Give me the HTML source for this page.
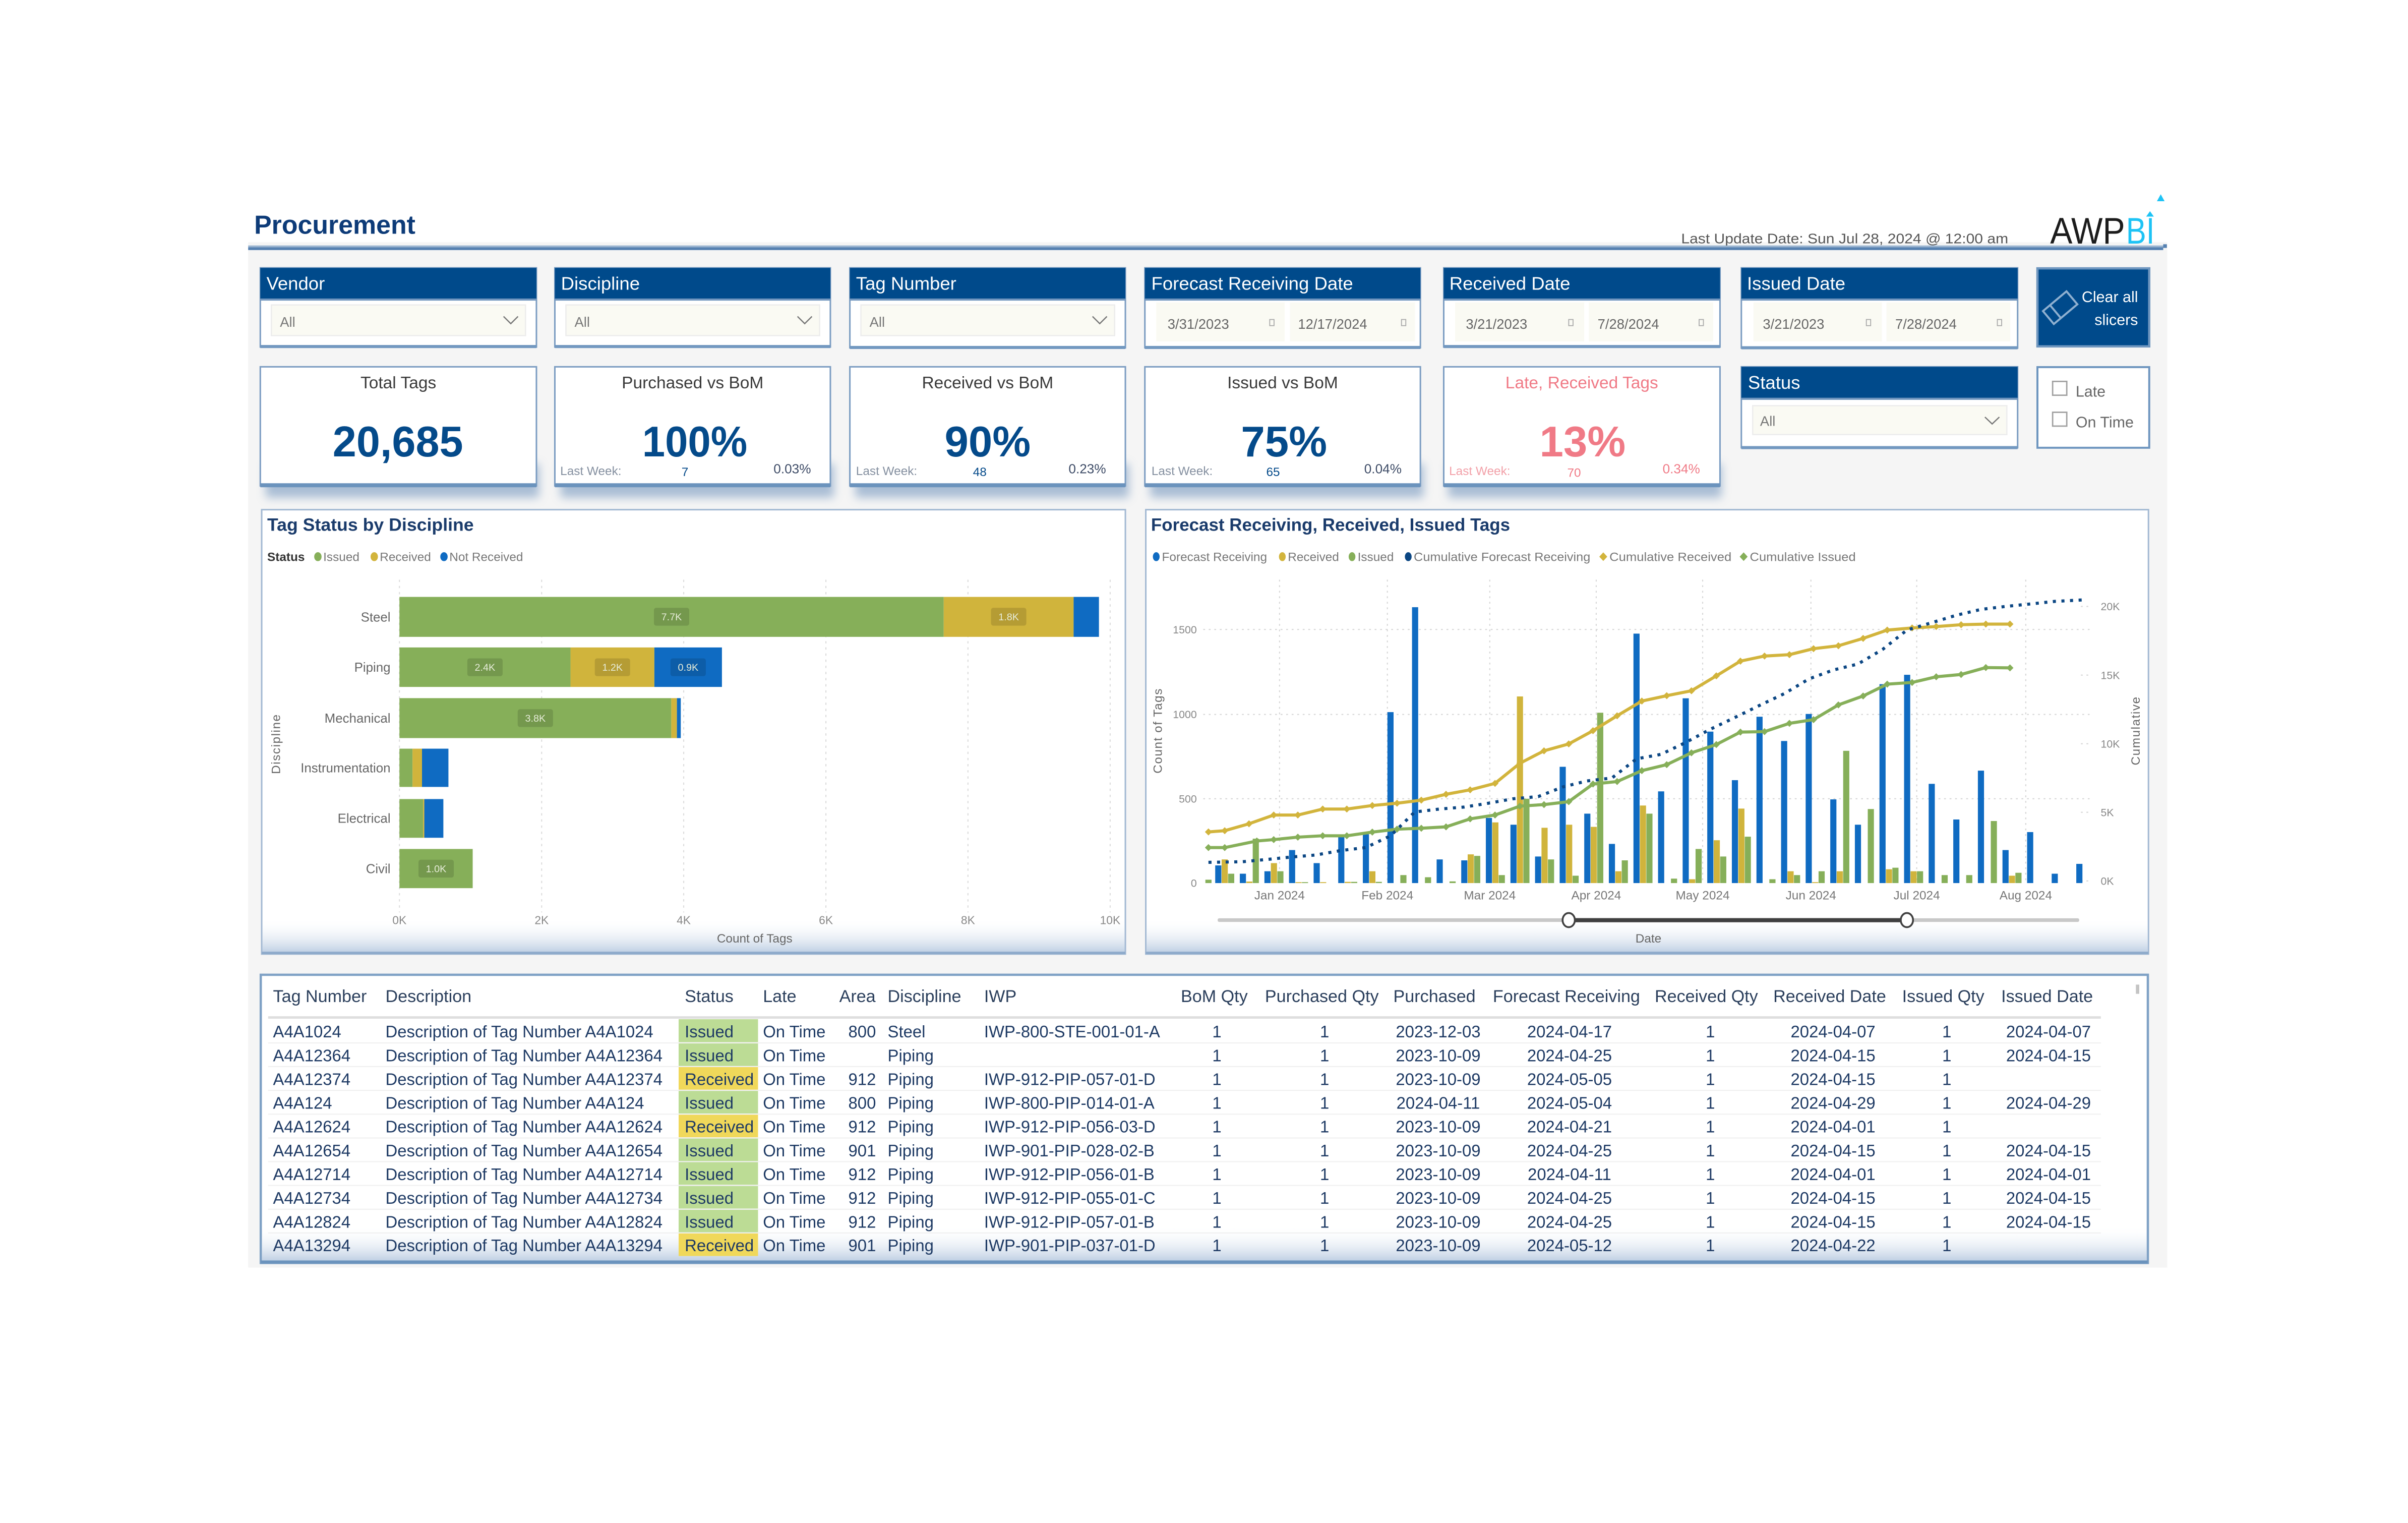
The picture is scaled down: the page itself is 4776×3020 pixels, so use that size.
<!DOCTYPE html>
<html><head><meta charset="utf-8"><style>
html,body{margin:0;padding:0;background:#fff;width:4776px;height:3020px;overflow:hidden}
svg{display:block;font-family:"Liberation Sans",Arial,sans-serif}
</style></head><body>
<svg width="4776" height="3020" viewBox="0 0 1568 991.5" preserveAspectRatio="none" xmlns="http://www.w3.org/2000/svg">
<defs>
<filter id="bl" x="-20%" y="-50%" width="140%" height="200%"><feGaussianBlur stdDeviation="3"/></filter>
<linearGradient id="pb" x1="0" y1="0" x2="0" y2="1"><stop offset="0" stop-color="#ffffff" stop-opacity="0"/><stop offset="1" stop-color="#bccde2"/></linearGradient>
<marker id="my" viewBox="-3 -3 6 6" markerWidth="4.6" markerHeight="4.6" markerUnits="userSpaceOnUse" refX="0" refY="0"><path d="M0,-3 L3,0 L0,3 L-3,0Z" fill="#d2b43c"/></marker>
<marker id="mg" viewBox="-3 -3 6 6" markerWidth="4.6" markerHeight="4.6" markerUnits="userSpaceOnUse" refX="0" refY="0"><path d="M0,-3 L3,0 L0,3 L-3,0Z" fill="#86af59"/></marker>
</defs>
<rect x="0" y="0" width="1568" height="991.5" fill="#fff"/>
<!-- gray area -->
<rect x="161.6" y="157.7" width="1249.6" height="667.5" fill="#f5f5f5"/>
<!-- header -->
<text x="165.5" y="152.2" font-size="17" font-weight="bold" fill="#0d3b78" textLength="105" lengthAdjust="spacingAndGlyphs">Procurement</text>
<text x="1094.7" y="158.4" font-size="9" fill="#555" textLength="213" lengthAdjust="spacingAndGlyphs">Last Update Date: Sun Jul 28, 2024 @ 12:00 am</text>
<text x="1335" y="158.6" font-size="24" fill="#1c1c1c" textLength="48.7" lengthAdjust="spacingAndGlyphs">AWP</text>
<text x="1384.4" y="158.6" font-size="24" fill="#1ec3f5" textLength="18.6" lengthAdjust="spacingAndGlyphs">BI</text>
<path d="M1397.5,141 L1400,137.5 L1402.5,141Z" fill="#1ec3f5"/>
<path d="M1404.5,131 L1407,126.5 L1409.5,131Z" fill="#1ec3f5"/>
<rect x="161.6" y="159.8" width="1247" height="1.2" fill="#9ab4d0"/>
<rect x="161.6" y="161" width="1247" height="1.8" fill="#5681b1"/>
<rect x="1408.6" y="159" width="2.4" height="2.4" fill="#5681b1"/>

<!-- slicer cards -->
<g>
<rect x="169.5" y="174.4" width="179.8" height="51.5" fill="#fff" stroke="#7c9dc2" stroke-width="1"/>
<rect x="169.5" y="174.4" width="179.8" height="20" fill="#004a8b"/>
<rect x="169.5" y="194.4" width="179.8" height="1.3" fill="#7095be"/>
<rect x="169.5" y="224.6" width="179.8" height="2" fill="#7298c0"/>
<rect x="176.7" y="198.5" width="165.5" height="20" fill="#fafaf3" stroke="#ececec" stroke-width="0.8"/>
<text x="173.5" y="188.6" font-size="12" fill="#fff">Vendor</text>
<text x="182.3" y="212.8" font-size="9" fill="#777">All</text>
<polyline points="327.9,206 332.6,210.7 337.3,206" fill="none" stroke="#777" stroke-width="0.8"/>
</g>
<g>
<rect x="361.3" y="174.4" width="179.4" height="51.5" fill="#fff" stroke="#7c9dc2" stroke-width="1"/>
<rect x="361.3" y="174.4" width="179.4" height="20" fill="#004a8b"/>
<rect x="361.3" y="194.4" width="179.4" height="1.3" fill="#7095be"/>
<rect x="361.3" y="224.6" width="179.4" height="2" fill="#7298c0"/>
<rect x="368.5" y="198.5" width="165.2" height="20" fill="#fafaf3" stroke="#ececec" stroke-width="0.8"/>
<text x="365.3" y="188.6" font-size="12" fill="#fff">Discipline</text>
<text x="374.1" y="212.8" font-size="9" fill="#777">All</text>
<polyline points="519.3,206 524,210.7 528.7,206" fill="none" stroke="#777" stroke-width="0.8"/>
</g>
<g>
<rect x="553.4" y="174.4" width="179.4" height="52" fill="#fff" stroke="#7c9dc2" stroke-width="1"/>
<rect x="553.4" y="174.4" width="179.4" height="20" fill="#004a8b"/>
<rect x="553.4" y="194.4" width="179.4" height="1.3" fill="#7095be"/>
<rect x="553.4" y="225.2" width="179.4" height="2" fill="#7298c0"/>
<rect x="560.6" y="198.5" width="165.2" height="20" fill="#fafaf3" stroke="#ececec" stroke-width="0.8"/>
<text x="557.4" y="188.6" font-size="12" fill="#fff">Tag Number</text>
<text x="566.2" y="212.8" font-size="9" fill="#777">All</text>
<polyline points="711.4,206 716.1,210.7 720.8,206" fill="none" stroke="#777" stroke-width="0.8"/>
</g>
<!-- date slicers -->
<g>
<rect x="745.5" y="174.4" width="179.4" height="52" fill="#fff" stroke="#7c9dc2" stroke-width="1"/>
<rect x="745.5" y="174.4" width="179.4" height="20" fill="#004a8b"/>
<rect x="745.5" y="194.4" width="179.4" height="1.3" fill="#7095be"/>
<rect x="745.5" y="225.2" width="179.4" height="2" fill="#7298c0"/>
<rect x="752.9" y="196.9" width="83.6" height="25.4" fill="#fafaf3"/>
<rect x="840" y="196.9" width="81.4" height="25.4" fill="#fafaf3"/>
<text x="749.7" y="188.6" font-size="12" fill="#fff">Forecast Receiving Date</text>
<text x="760.3" y="214" font-size="9" fill="#666">3/31/2023</text>
<text x="845.2" y="214" font-size="9" fill="#666">12/17/2024</text>
<rect x="826.8" y="208" width="2.8" height="4" fill="none" stroke="#aaa" stroke-width="0.6"/>
<rect x="912.6" y="208" width="2.8" height="4" fill="none" stroke="#aaa" stroke-width="0.6"/>
</g>
<g>
<rect x="940.1" y="174.4" width="179.9" height="51.5" fill="#fff" stroke="#7c9dc2" stroke-width="1"/>
<rect x="940.1" y="174.4" width="179.9" height="20" fill="#004a8b"/>
<rect x="940.1" y="194.4" width="179.9" height="1.3" fill="#7095be"/>
<rect x="940.1" y="224.6" width="179.9" height="2" fill="#7298c0"/>
<rect x="947.5" y="196.9" width="84.1" height="25.4" fill="#fafaf3"/>
<rect x="1034.6" y="196.9" width="81" height="25.4" fill="#fafaf3"/>
<text x="943.8" y="188.6" font-size="12" fill="#fff">Received Date</text>
<text x="954.5" y="214" font-size="9" fill="#666">3/21/2023</text>
<text x="1040.3" y="214" font-size="9" fill="#666">7/28/2024</text>
<rect x="1021.5" y="208" width="2.8" height="4" fill="none" stroke="#aaa" stroke-width="0.6"/>
<rect x="1106.4" y="208" width="2.8" height="4" fill="none" stroke="#aaa" stroke-width="0.6"/>
</g>
<g>
<rect x="1133.9" y="174.4" width="179.9" height="52.2" fill="#fff" stroke="#7c9dc2" stroke-width="1"/>
<rect x="1133.9" y="174.4" width="179.9" height="20" fill="#004a8b"/>
<rect x="1133.9" y="194.4" width="179.9" height="1.3" fill="#7095be"/>
<rect x="1133.9" y="225.4" width="179.9" height="2" fill="#7298c0"/>
<rect x="1141.8" y="196.9" width="83.6" height="25.4" fill="#fafaf3"/>
<rect x="1228.4" y="196.9" width="80.6" height="25.4" fill="#fafaf3"/>
<text x="1137.6" y="188.6" font-size="12" fill="#fff">Issued Date</text>
<text x="1147.9" y="214" font-size="9" fill="#666">3/21/2023</text>
<text x="1234.1" y="214" font-size="9" fill="#666">7/28/2024</text>
<rect x="1215.3" y="208" width="2.8" height="4" fill="none" stroke="#aaa" stroke-width="0.6"/>
<rect x="1300.6" y="208" width="2.8" height="4" fill="none" stroke="#aaa" stroke-width="0.6"/>
</g>
<!-- clear all slicers -->
<rect x="1326.7" y="174.7" width="72.8" height="50.8" fill="#004a8b" stroke="#6f96bf" stroke-width="1.5"/>
<g transform="translate(1341.5,200.3) rotate(-40)">
<rect x="-10" y="-5.5" width="20" height="11" fill="none" stroke="#8fb0d0" stroke-width="1.3"/>
<line x1="-4" y1="-5.5" x2="-4" y2="5.5" stroke="#8fb0d0" stroke-width="1.3"/>
</g>
<text x="1392.2" y="196.6" font-size="10" fill="#fff" text-anchor="end">Clear all</text>
<text x="1392.2" y="211.6" font-size="10" fill="#fff" text-anchor="end">slicers</text>

<!-- KPI shadows -->
<g filter="url(#bl)" fill="#9bb3cf" opacity="0.85">
<rect x="173" y="302" width="178" height="22"/>
<rect x="365" y="302" width="178" height="22"/>
<rect x="557" y="302" width="178" height="22"/>
<rect x="749" y="302" width="178" height="22"/>
<rect x="943" y="302" width="178" height="22"/>
</g>
<!-- KPI cards -->
<g>
<rect x="169.5" y="238.8" width="179.8" height="77.5" fill="#fff" stroke="#7c9dc2" stroke-width="1"/>
<rect x="169.5" y="314.6" width="179.8" height="2.6" fill="#6b93bd"/>
<text x="259.4" y="252.8" font-size="11" fill="#3a3a3a" text-anchor="middle">Total Tags</text>
<text x="259.1" y="297.2" font-size="28" font-weight="bold" fill="#044a8a" text-anchor="middle" textLength="85" lengthAdjust="spacingAndGlyphs">20,685</text>
</g>
<g>
<rect x="361.3" y="238.8" width="179.4" height="77.5" fill="#fff" stroke="#7c9dc2" stroke-width="1"/>
<rect x="361.3" y="314.6" width="179.4" height="2.6" fill="#6b93bd"/>
<text x="451" y="252.8" font-size="11" fill="#3a3a3a" text-anchor="middle">Purchased vs BoM</text>
<text x="452.4" y="297.2" font-size="28" font-weight="bold" fill="#044a8a" text-anchor="middle" textLength="68.4" lengthAdjust="spacingAndGlyphs">100%</text>
<text x="364.8" y="309.2" font-size="8" fill="#8590a0">Last Week:</text>
<text x="446" y="310" font-size="8" fill="#044a8a" text-anchor="middle">7</text>
<text x="528.1" y="308.2" font-size="8.6" fill="#3d4b66" text-anchor="end">0.03%</text>
</g>
<g>
<rect x="553.4" y="238.8" width="179.4" height="77.5" fill="#fff" stroke="#7c9dc2" stroke-width="1"/>
<rect x="553.4" y="314.6" width="179.4" height="2.6" fill="#6b93bd"/>
<text x="643.1" y="252.8" font-size="11" fill="#3a3a3a" text-anchor="middle">Received vs BoM</text>
<text x="643.1" y="297.2" font-size="28" font-weight="bold" fill="#044a8a" text-anchor="middle">90%</text>
<text x="557.4" y="309.2" font-size="8" fill="#8590a0">Last Week:</text>
<text x="638" y="310" font-size="8" fill="#044a8a" text-anchor="middle">48</text>
<text x="720.2" y="308.2" font-size="8.6" fill="#3d4b66" text-anchor="end">0.23%</text>
</g>
<g>
<rect x="745.5" y="238.8" width="179.4" height="77.5" fill="#fff" stroke="#7c9dc2" stroke-width="1"/>
<rect x="745.5" y="314.6" width="179.4" height="2.6" fill="#6b93bd"/>
<text x="835.2" y="252.8" font-size="11" fill="#3a3a3a" text-anchor="middle">Issued vs BoM</text>
<text x="836.1" y="297.2" font-size="28" font-weight="bold" fill="#044a8a" text-anchor="middle">75%</text>
<text x="749.8" y="309.2" font-size="8" fill="#8590a0">Last Week:</text>
<text x="829" y="310" font-size="8" fill="#044a8a" text-anchor="middle">65</text>
<text x="912.7" y="308.2" font-size="8.6" fill="#3d4b66" text-anchor="end">0.04%</text>
</g>
<g>
<rect x="940.1" y="238.8" width="179.9" height="77.5" fill="#fff" stroke="#7c9dc2" stroke-width="1"/>
<rect x="940.1" y="314.6" width="179.9" height="2.6" fill="#6b93bd"/>
<text x="1030" y="252.8" font-size="11" fill="#f07a86" text-anchor="middle">Late, Received Tags</text>
<text x="1030.5" y="297.2" font-size="28" font-weight="bold" fill="#f07a86" text-anchor="middle">13%</text>
<text x="943.6" y="309.2" font-size="8" fill="#f2a0a8">Last Week:</text>
<text x="1025" y="310.5" font-size="8" fill="#f07a86" text-anchor="middle">70</text>
<text x="1107" y="308.2" font-size="8.6" fill="#f07a86" text-anchor="end">0.34%</text>
</g>
<!-- status slicer -->
<rect x="1133.9" y="238.8" width="179.9" height="52.7" fill="#fff" stroke="#7c9dc2" stroke-width="1"/>
<rect x="1133.9" y="238.8" width="179.9" height="20.2" fill="#004a8b"/>
<rect x="1133.9" y="259" width="179.9" height="1.3" fill="#7095be"/>
<rect x="1133.9" y="290.4" width="179.9" height="2" fill="#7298c0"/>
<rect x="1141.3" y="264.1" width="165.5" height="18.8" fill="#fafaf3" stroke="#ececec" stroke-width="0.8"/>
<text x="1138.2" y="253.2" font-size="12" fill="#fff">Status</text>
<text x="1146.1" y="277.2" font-size="9" fill="#777">All</text>
<polyline points="1292.5,271.5 1297.2,276 1301.9,271.5" fill="none" stroke="#777" stroke-width="0.8"/>
<!-- late/on time -->
<rect x="1326.7" y="239" width="72.8" height="52.5" fill="#fff" stroke="#6f96bf" stroke-width="1.3"/>
<rect x="1336.6" y="248.3" width="9.2" height="9" fill="#fff" stroke="#a0a0a0" stroke-width="0.9"/>
<rect x="1336.6" y="268.4" width="9.2" height="9" fill="#fff" stroke="#a0a0a0" stroke-width="0.9"/>
<text x="1351.6" y="258.3" font-size="10" fill="#666">Late</text>
<text x="1351.6" y="278.2" font-size="10" fill="#666">On Time</text>

<!-- ===== Bar chart panel ===== -->
<rect x="170.4" y="331.8" width="562.4" height="289.3" fill="#fff" stroke="#a3b9d3" stroke-width="1"/>
<rect x="170.9" y="598" width="561.4" height="22.6" fill="url(#pb)"/>
<rect x="170.4" y="619.6" width="562.4" height="1.6" fill="#8eaacb"/>
<text x="174" y="345.6" font-size="11.6" font-weight="bold" fill="#1a3b6b" textLength="134.5" lengthAdjust="spacingAndGlyphs">Tag Status by Discipline</text>
<text x="174" y="365.2" font-size="8" font-weight="bold" fill="#333">Status</text>
<ellipse cx="207" cy="362.4" rx="2.4" ry="2.9" fill="#86af59"/>
<text x="210.5" y="365.2" font-size="8" fill="#777">Issued</text>
<ellipse cx="243.7" cy="362.4" rx="2.4" ry="2.9" fill="#d2b43c"/>
<text x="247.3" y="365.2" font-size="8" fill="#777">Received</text>
<ellipse cx="289.1" cy="362.4" rx="2.4" ry="2.9" fill="#0f6bc2"/>
<text x="292.6" y="365.2" font-size="8" fill="#777">Not Received</text>
<g stroke="#dcdcdc" stroke-width="0.7" stroke-dasharray="1.5,2.5">
<line x1="260.1" y1="377.4" x2="260.1" y2="594"/>
<line x1="352.7" y1="377.4" x2="352.7" y2="594"/>
<line x1="445.2" y1="377.4" x2="445.2" y2="594"/>
<line x1="537.8" y1="377.4" x2="537.8" y2="594"/>
<line x1="630.3" y1="377.4" x2="630.3" y2="594"/>
<line x1="722.9" y1="377.4" x2="722.9" y2="594"/>
</g>
<!-- bars -->
<rect x="260.1" y="388.6" width="354.4" height="26" fill="#86af59"/>
<rect x="614.5" y="388.6" width="84.6" height="26" fill="#d0b43c"/>
<rect x="699.1" y="388.6" width="16.5" height="26" fill="#0f6bc2"/>
<rect x="260.1" y="421.5" width="111.4" height="25.7" fill="#86af59"/>
<rect x="371.5" y="421.5" width="54.6" height="25.7" fill="#d0b43c"/>
<rect x="426.1" y="421.5" width="44" height="25.7" fill="#0f6bc2"/>
<rect x="260.1" y="454.5" width="177" height="26" fill="#86af59"/>
<rect x="437.1" y="454.5" width="3.7" height="26" fill="#d0b43c"/>
<rect x="440.8" y="454.5" width="2.5" height="26" fill="#0f6bc2"/>
<rect x="260.1" y="487.4" width="8.5" height="24.9" fill="#86af59"/>
<rect x="268.6" y="487.4" width="6.2" height="24.9" fill="#d0b43c"/>
<rect x="274.8" y="487.4" width="17.2" height="24.9" fill="#0f6bc2"/>
<rect x="260.1" y="520.2" width="15.4" height="25.2" fill="#86af59"/>
<rect x="275.5" y="520.2" width="0.8" height="25.2" fill="#d0b43c"/>
<rect x="276.3" y="520.2" width="12.4" height="25.2" fill="#0f6bc2"/>
<rect x="260.1" y="552.7" width="47.7" height="25.5" fill="#86af59"/>
<!-- data labels -->
<g fill="#000" opacity="0.13">
<rect x="425.8" y="395.7" width="23" height="11.6" rx="1.5"/>
<rect x="645.3" y="395.7" width="23" height="11.6" rx="1.5"/>
<rect x="304.3" y="428.6" width="23" height="11.6" rx="1.5"/>
<rect x="387.3" y="428.6" width="23" height="11.6" rx="1.5"/>
<rect x="436.6" y="428.6" width="23" height="11.6" rx="1.5"/>
<rect x="337.1" y="461.7" width="23" height="11.6" rx="1.5"/>
<rect x="272.5" y="559.7" width="23" height="11.6" rx="1.5"/>
</g>
<g font-size="6.5" fill="#e6ecd8" text-anchor="middle">
<text x="437.3" y="403.8">7.7K</text>
<text x="656.8" y="403.8">1.8K</text>
<text x="315.8" y="436.7">2.4K</text>
<text x="398.8" y="436.7">1.2K</text>
<text x="448.1" y="436.7">0.9K</text>
<text x="348.6" y="469.8">3.8K</text>
<text x="284" y="567.8">1.0K</text>
</g>
<g font-size="8.5" fill="#666" text-anchor="end">
<text x="254.3" y="404.6">Steel</text>
<text x="254.3" y="437.3">Piping</text>
<text x="254.3" y="470.4">Mechanical</text>
<text x="254.3" y="502.8">Instrumentation</text>
<text x="254.3" y="535.7">Electrical</text>
<text x="254.3" y="568.4">Civil</text>
</g>
<g font-size="7.5" fill="#888" text-anchor="middle">
<text x="260.1" y="601.6">0K</text>
<text x="352.7" y="601.6">2K</text>
<text x="445.2" y="601.6">4K</text>
<text x="537.8" y="601.6">6K</text>
<text x="630.3" y="601.6">8K</text>
<text x="722.9" y="601.6">10K</text>
</g>
<text x="491.4" y="613.6" font-size="8" fill="#666" text-anchor="middle">Count of Tags</text>
<text transform="translate(182.3,484.3) rotate(-90)" font-size="8" fill="#666" text-anchor="middle" letter-spacing="0.5">Discipline</text>

<!-- ===== Line chart panel ===== -->
<rect x="746.1" y="331.8" width="652.9" height="289.3" fill="#fff" stroke="#a3b9d3" stroke-width="1"/>
<rect x="746.6" y="598" width="651.9" height="22.6" fill="url(#pb)"/>
<rect x="746.1" y="619.6" width="652.9" height="1.6" fill="#8eaacb"/>
<text x="749.5" y="345.6" font-size="11.6" font-weight="bold" fill="#1a3b6b" textLength="233.8" lengthAdjust="spacingAndGlyphs">Forecast Receiving, Received, Issued Tags</text>
<ellipse cx="752.9" cy="362.4" rx="2.2" ry="2.9" fill="#0f6bc2"/>
<text x="756.6" y="365.2" font-size="8" fill="#777">Forecast Receiving</text>
<ellipse cx="835" cy="362.4" rx="2.2" ry="2.9" fill="#d2b43c"/>
<text x="838.6" y="365.2" font-size="8" fill="#777">Received</text>
<ellipse cx="880.4" cy="362.4" rx="2.2" ry="2.9" fill="#86af59"/>
<text x="884" y="365.2" font-size="8" fill="#777">Issued</text>
<ellipse cx="917" cy="362.4" rx="2.2" ry="2.9" fill="#0b4683"/>
<text x="920.6" y="365.2" font-size="8" fill="#777" textLength="115" lengthAdjust="spacingAndGlyphs">Cumulative Forecast Receiving</text>
<path d="M1044,359.6 L1046.6,362.4 L1044,365.2 L1041.4,362.4Z" fill="#d2b43c"/>
<text x="1048" y="365.2" font-size="8" fill="#777" textLength="79.5" lengthAdjust="spacingAndGlyphs">Cumulative Received</text>
<path d="M1135.4,359.6 L1138,362.4 L1135.4,365.2 L1132.8,362.4Z" fill="#86af59"/>
<text x="1139.4" y="365.2" font-size="8" fill="#777" textLength="69" lengthAdjust="spacingAndGlyphs">Cumulative Issued</text>
<!-- grid -->
<g stroke="#d6d6d6" stroke-width="0.7" stroke-dasharray="1.2,2.4">
<line x1="783.5" y1="520" x2="1361.6" y2="520"/>
<line x1="783.5" y1="465.1" x2="1361.6" y2="465.1"/>
<line x1="783.5" y1="409.8" x2="1361.6" y2="409.8"/>
<line x1="833.2" y1="377.4" x2="833.2" y2="575"/>
<line x1="903.4" y1="377.4" x2="903.4" y2="575"/>
<line x1="970.1" y1="377.4" x2="970.1" y2="575"/>
<line x1="1039.4" y1="377.4" x2="1039.4" y2="575"/>
<line x1="1108.7" y1="377.4" x2="1108.7" y2="575"/>
<line x1="1179.2" y1="377.4" x2="1179.2" y2="575"/>
<line x1="1248.1" y1="377.4" x2="1248.1" y2="575"/>
<line x1="1319.1" y1="377.4" x2="1319.1" y2="575"/>
<line x1="1355" y1="528.8" x2="1362" y2="528.8"/>
<line x1="1355" y1="484.2" x2="1362" y2="484.2"/>
<line x1="1355" y1="439.5" x2="1362" y2="439.5"/>
<line x1="1355" y1="394.8" x2="1362" y2="394.8"/>
<line x1="1355" y1="573.5" x2="1362" y2="573.5"/>
</g>
<!-- bars -->
<g fill="#0f6bc2">
<rect x="791.3" y="563.4" width="4" height="11.5"/>
<rect x="807.32" y="568.8" width="4" height="6.1"/>
<rect x="823.34" y="567.2" width="4" height="7.7"/>
<rect x="839.36" y="553.4" width="4" height="21.5"/>
<rect x="855.38" y="561.9" width="4" height="13"/>
<rect x="871.4" y="545" width="4" height="29.9"/>
<rect x="887.42" y="543.1" width="4" height="31.8"/>
<rect x="903.44" y="463.6" width="4" height="111.3"/>
<rect x="919.46" y="395.3" width="4" height="179.6"/>
<rect x="935.48" y="559.5" width="4" height="15.4"/>
<rect x="951.5" y="560.1" width="4" height="14.8"/>
<rect x="967.52" y="532.5" width="4" height="42.4"/>
<rect x="983.54" y="536.9" width="4" height="38"/>
<rect x="999.56" y="557.6" width="4" height="17.3"/>
<rect x="1015.58" y="499.2" width="4" height="75.7"/>
<rect x="1031.6" y="529.7" width="4" height="45.2"/>
<rect x="1047.62" y="549.4" width="4" height="25.5"/>
<rect x="1063.64" y="412.5" width="4" height="162.4"/>
<rect x="1079.66" y="515.2" width="4" height="59.7"/>
<rect x="1095.68" y="454.6" width="4" height="120.3"/>
<rect x="1111.7" y="476.3" width="4" height="98.6"/>
<rect x="1127.72" y="507.9" width="4" height="67"/>
<rect x="1143.74" y="466.6" width="4" height="108.3"/>
<rect x="1159.76" y="482.4" width="4" height="92.5"/>
<rect x="1175.78" y="464.8" width="4" height="110.1"/>
<rect x="1191.8" y="520.4" width="4" height="54.5"/>
<rect x="1207.82" y="536.9" width="4" height="38"/>
<rect x="1223.84" y="445.4" width="4" height="129.5"/>
<rect x="1239.86" y="439.3" width="4" height="135.6"/>
<rect x="1255.88" y="510.3" width="4" height="64.6"/>
<rect x="1271.9" y="533.5" width="4" height="41.4"/>
<rect x="1287.92" y="501.7" width="4" height="73.2"/>
<rect x="1303.94" y="553.4" width="4" height="21.5"/>
<rect x="1319.96" y="541.7" width="4" height="33.2"/>
<rect x="1335.98" y="568.8" width="4" height="6.1"/>
<rect x="1352" y="562.4" width="4" height="12.5"/>
</g>
<g fill="#d0b43c">
<rect x="795.5" y="559.5" width="4" height="15.4"/>
<rect x="811.52" y="573.9" width="4" height="1"/>
<rect x="827.54" y="561.9" width="4" height="13"/>
<rect x="843.56" y="574.3" width="4" height="0.6"/>
<rect x="859.58" y="574.3" width="4" height="0.6"/>
<rect x="875.6" y="574.1" width="4" height="0.8"/>
<rect x="891.62" y="567.2" width="4" height="7.7"/>
<rect x="955.7" y="556.2" width="4" height="18.7"/>
<rect x="971.72" y="535.4" width="4" height="39.5"/>
<rect x="987.74" y="453.4" width="4" height="121.5"/>
<rect x="1003.76" y="538.9" width="4" height="36"/>
<rect x="1019.78" y="536.9" width="4" height="38"/>
<rect x="1035.8" y="538.3" width="4" height="36.6"/>
<rect x="1051.82" y="567.2" width="4" height="7.7"/>
<rect x="1067.84" y="524.4" width="4" height="50.5"/>
<rect x="1099.88" y="572.4" width="4" height="2.5"/>
<rect x="1115.9" y="547" width="4" height="27.9"/>
<rect x="1131.92" y="526.4" width="4" height="48.5"/>
<rect x="1163.96" y="567.2" width="4" height="7.7"/>
<rect x="1179.98" y="574.3" width="4" height="0.6"/>
<rect x="1196" y="567.2" width="4" height="7.7"/>
<rect x="1228.04" y="565.9" width="4" height="9"/>
<rect x="1244.06" y="567.2" width="4" height="7.7"/>
<rect x="1308.14" y="570.1" width="4" height="4.8"/>
</g>
<g fill="#86af59">
<rect x="784.9" y="572.7" width="4" height="2.2"/>
<rect x="799.7" y="568.8" width="4" height="6.1"/>
<rect x="815.72" y="546" width="4" height="28.9"/>
<rect x="831.74" y="567.2" width="4" height="7.7"/>
<rect x="847.76" y="574.3" width="4" height="0.6"/>
<rect x="879.8" y="574.1" width="4" height="0.8"/>
<rect x="895.82" y="574.1" width="4" height="0.8"/>
<rect x="911.84" y="569.7" width="4" height="5.2"/>
<rect x="927.86" y="571.1" width="4" height="3.8"/>
<rect x="943.88" y="573.8" width="4" height="1.1"/>
<rect x="959.9" y="557.2" width="4" height="17.7"/>
<rect x="975.92" y="569.7" width="4" height="5.2"/>
<rect x="991.94" y="520" width="4" height="54.9"/>
<rect x="1007.96" y="559.5" width="4" height="15.4"/>
<rect x="1023.98" y="570.1" width="4" height="4.8"/>
<rect x="1040" y="464" width="4" height="110.9"/>
<rect x="1056.02" y="560.1" width="4" height="14.8"/>
<rect x="1072.04" y="529.7" width="4" height="45.2"/>
<rect x="1088.06" y="572" width="4" height="2.9"/>
<rect x="1104.08" y="552.7" width="4" height="22.2"/>
<rect x="1120.1" y="557.6" width="4" height="17.3"/>
<rect x="1136.12" y="544.7" width="4" height="30.2"/>
<rect x="1152.14" y="572.4" width="4" height="2.5"/>
<rect x="1168.16" y="569.7" width="4" height="5.2"/>
<rect x="1184.18" y="567.2" width="4" height="7.7"/>
<rect x="1200.2" y="488.8" width="4" height="86.1"/>
<rect x="1216.22" y="526.7" width="4" height="48.2"/>
<rect x="1232.24" y="564.9" width="4" height="10"/>
<rect x="1248.26" y="567.2" width="4" height="7.7"/>
<rect x="1264.28" y="569.7" width="4" height="5.2"/>
<rect x="1280.3" y="569.7" width="4" height="5.2"/>
<rect x="1296.32" y="534.5" width="4" height="40.4"/>
<rect x="1312.34" y="568.2" width="4" height="6.7"/>
</g>
<!-- lines -->
<polyline fill="none" stroke="#d2b43c" stroke-width="2" marker-start="url(#my)" marker-mid="url(#my)" marker-end="url(#my)" points="786.9,541.6 797.5,540.8 813.3,536.3 829.4,530.6 845.1,530.6 861.3,526.7 877.0,526.7 893.6,524.4 909.7,522.9 925.5,520.9 941.6,517.1 957.3,514.2 973.5,510.0 989.7,496.9 1005.4,488.8 1021.5,484.3 1037.3,475.7 1053.0,466.0 1069.1,456.4 1085.3,452.9 1101.4,449.7 1117.6,440.0 1133.3,430.4 1149.0,427.1 1165.2,426.2 1180.9,422.3 1197.1,420.4 1213.2,415.6 1228.9,410.2 1245.1,408.8 1260.8,407.9 1277.0,406.7 1293.1,406.3 1308.8,406.3"/>
<polyline fill="none" stroke="#86af59" stroke-width="2" marker-start="url(#mg)" marker-mid="url(#mg)" marker-end="url(#mg)" points="786.9,551.8 797.5,551.8 818.4,547.5 829.4,546.6 845.1,545.0 861.3,544.1 877.0,544.1 893.6,541.7 909.7,539.8 925.5,539.2 941.6,538.3 957.3,533.1 973.5,530.6 989.7,524.8 1005.4,523.8 1021.5,521.9 1037.3,510.4 1053.0,508.8 1069.1,501.7 1085.3,497.8 1101.4,490.1 1117.6,484.7 1133.3,476.6 1149.0,476.3 1165.2,470.9 1180.9,468.5 1197.1,458.9 1213.2,453.1 1228.9,445.4 1245.1,444.3 1260.8,440.6 1277.0,439.1 1293.1,434.6 1308.8,434.8"/>
<polyline fill="none" stroke="#0b4683" stroke-width="2" stroke-dasharray="2,3.6" points="786.9,561.4 809.0,561.0 825.2,559.5 841.3,557.9 857.0,556.6 873.2,553.7 889.3,551.8 905.5,544.1 921.2,528.6 937.4,526.7 953.5,525.4 969.2,522.9 985.4,520.0 1001.6,518.6 1017.7,512.3 1033.4,508.4 1049.6,506.5 1065.7,494.0 1081.5,491.1 1097.6,483.4 1113.8,474.7 1129.9,467.0 1145.6,459.3 1161.8,451.6 1177.9,442.0 1193.7,436.2 1209.8,432.3 1226.0,422.7 1241.7,410.2 1257.8,405.4 1274.0,400.5 1290.1,396.7 1305.9,394.8 1322.0,393.2 1338.2,391.5 1357.3,390.5"/>
<!-- axes labels -->
<g font-size="7" fill="#888" text-anchor="end">
<text x="779.3" y="577.4">0</text>
<text x="779.3" y="522.5">500</text>
<text x="779.3" y="467.6">1000</text>
<text x="779.3" y="412.3">1500</text>
</g>
<g font-size="7" fill="#888">
<text x="1367.9" y="576">0K</text>
<text x="1367.9" y="531.3">5K</text>
<text x="1367.9" y="486.7">10K</text>
<text x="1367.9" y="442">15K</text>
<text x="1367.9" y="397.3">20K</text>
</g>
<g font-size="8" fill="#777" text-anchor="middle">
<text x="833.2" y="585.6">Jan 2024</text>
<text x="903.4" y="585.6">Feb 2024</text>
<text x="970.1" y="585.6">Mar 2024</text>
<text x="1039.4" y="585.6">Apr 2024</text>
<text x="1108.7" y="585.6">May 2024</text>
<text x="1179.2" y="585.6">Jun 2024</text>
<text x="1248.1" y="585.6">Jul 2024</text>
<text x="1319.1" y="585.6">Aug 2024</text>
</g>
<text transform="translate(756.6,475.7) rotate(-90)" font-size="8" fill="#666" text-anchor="middle" letter-spacing="0.5">Count of Tags</text>
<text transform="translate(1393.3,475.7) rotate(-90)" font-size="8" fill="#666" text-anchor="middle" letter-spacing="0.5">Cumulative</text>
<!-- slider -->
<rect x="792.9" y="597.8" width="561" height="2.4" rx="1" fill="#c8c8c8"/>
<rect x="1021.5" y="597.7" width="220.2" height="2.7" fill="#404040"/>
<ellipse cx="1021.5" cy="599" rx="4" ry="4.6" fill="#fff" stroke="#404040" stroke-width="1.2"/>
<ellipse cx="1241.7" cy="599" rx="4" ry="4.6" fill="#fff" stroke="#404040" stroke-width="1.2"/>
<text x="1073.4" y="613.6" font-size="8" fill="#666" text-anchor="middle">Date</text>

<!-- ===== Table ===== -->
<rect x="169.8" y="634.6" width="1228.8" height="187.6" fill="#fff" stroke="#7fa1c5" stroke-width="1.5"/>
<rect x="170.6" y="798" width="1227.2" height="23.5" fill="url(#pb)"/>
<rect x="169.8" y="820.6" width="1228.8" height="2" fill="#6b93bd"/>
<rect x="1390.8" y="641" width="2.2" height="6" fill="#c4c4c4"/>
<!-- status cells -->
<g>
<rect x="441.9" y="663.5" width="51.7" height="15" fill="#bcdc95"/>
<rect x="441.9" y="679" width="51.7" height="15" fill="#bcdc95"/>
<rect x="441.9" y="694.4" width="51.7" height="15" fill="#f0d85a"/>
<rect x="441.9" y="709.9" width="51.7" height="15" fill="#bcdc95"/>
<rect x="441.9" y="725.4" width="51.7" height="15" fill="#f0d85a"/>
<rect x="441.9" y="740.9" width="51.7" height="15" fill="#bcdc95"/>
<rect x="441.9" y="756.3" width="51.7" height="15" fill="#bcdc95"/>
<rect x="441.9" y="771.8" width="51.7" height="15" fill="#bcdc95"/>
<rect x="441.9" y="787.3" width="51.7" height="15" fill="#bcdc95"/>
<rect x="441.9" y="802.7" width="51.7" height="15" fill="#f0d85a"/>
</g>
<rect x="174.6" y="661.6" width="1193.4" height="1.6" fill="#dedede"/>
<g fill="#f0f0f0">
<rect x="174.6" y="678.6" width="1193.4" height="0.7"/>
<rect x="174.6" y="694" width="1193.4" height="0.7"/>
<rect x="174.6" y="709.5" width="1193.4" height="0.7"/>
<rect x="174.6" y="725" width="1193.4" height="0.7"/>
<rect x="174.6" y="740.5" width="1193.4" height="0.7"/>
<rect x="174.6" y="755.9" width="1193.4" height="0.7"/>
<rect x="174.6" y="771.4" width="1193.4" height="0.7"/>
<rect x="174.6" y="786.9" width="1193.4" height="0.7"/>
<rect x="174.6" y="802.3" width="1193.4" height="0.7"/>
</g>
<g font-size="11.2" fill="#2b3f5c">
<text x="177.8" y="652.3">Tag Number</text>
<text x="251" y="652.3">Description</text>
<text x="445.9" y="652.3">Status</text>
<text x="496.8" y="652.3">Late</text>
<text x="546.5" y="652.3">Area</text>
<text x="578" y="652.3">Discipline</text>
<text x="640.8" y="652.3">IWP</text>
<text x="768.9" y="652.3">BoM Qty</text>
<text x="823.7" y="652.3">Purchased Qty</text>
<text x="907.3" y="652.3">Purchased</text>
<text x="972.1" y="652.3">Forecast Receiving</text>
<text x="1077.5" y="652.3">Received Qty</text>
<text x="1154.7" y="652.3">Received Date</text>
<text x="1238.6" y="652.3">Issued Qty</text>
<text x="1303.1" y="652.3">Issued Date</text>
</g>
<g font-size="10.8" fill="#1e3a64">
<g transform="translate(0,675.4)">
<text x="177.8">A4A1024</text><text x="251">Description of Tag Number A4A1024</text><text x="445.9">Issued</text><text x="496.8">On Time</text><text x="570.4" text-anchor="end">800</text><text x="578">Steel</text><text x="640.8">IWP-800-STE-001-01-A</text>
<text x="792.4" text-anchor="middle">1</text><text x="862.5" text-anchor="middle">1</text><text x="936.5" text-anchor="middle">2023-12-03</text><text x="1022" text-anchor="middle">2024-04-17</text><text x="1113.7" text-anchor="middle">1</text><text x="1193.6" text-anchor="middle">2024-04-07</text><text x="1267.7" text-anchor="middle">1</text><text x="1333.9" text-anchor="middle">2024-04-07</text>
</g>
<g transform="translate(0,690.9)">
<text x="177.8">A4A12364</text><text x="251">Description of Tag Number A4A12364</text><text x="445.9">Issued</text><text x="496.8">On Time</text><text x="578">Piping</text>
<text x="792.4" text-anchor="middle">1</text><text x="862.5" text-anchor="middle">1</text><text x="936.5" text-anchor="middle">2023-10-09</text><text x="1022" text-anchor="middle">2024-04-25</text><text x="1113.7" text-anchor="middle">1</text><text x="1193.6" text-anchor="middle">2024-04-15</text><text x="1267.7" text-anchor="middle">1</text><text x="1333.9" text-anchor="middle">2024-04-15</text>
</g>
<g transform="translate(0,706.3)">
<text x="177.8">A4A12374</text><text x="251">Description of Tag Number A4A12374</text><text x="445.9">Received</text><text x="496.8">On Time</text><text x="570.4" text-anchor="end">912</text><text x="578">Piping</text><text x="640.8">IWP-912-PIP-057-01-D</text>
<text x="792.4" text-anchor="middle">1</text><text x="862.5" text-anchor="middle">1</text><text x="936.5" text-anchor="middle">2023-10-09</text><text x="1022" text-anchor="middle">2024-05-05</text><text x="1113.7" text-anchor="middle">1</text><text x="1193.6" text-anchor="middle">2024-04-15</text><text x="1267.7" text-anchor="middle">1</text>
</g>
<g transform="translate(0,721.8)">
<text x="177.8">A4A124</text><text x="251">Description of Tag Number A4A124</text><text x="445.9">Issued</text><text x="496.8">On Time</text><text x="570.4" text-anchor="end">800</text><text x="578">Piping</text><text x="640.8">IWP-800-PIP-014-01-A</text>
<text x="792.4" text-anchor="middle">1</text><text x="862.5" text-anchor="middle">1</text><text x="936.5" text-anchor="middle">2024-04-11</text><text x="1022" text-anchor="middle">2024-05-04</text><text x="1113.7" text-anchor="middle">1</text><text x="1193.6" text-anchor="middle">2024-04-29</text><text x="1267.7" text-anchor="middle">1</text><text x="1333.9" text-anchor="middle">2024-04-29</text>
</g>
<g transform="translate(0,737.3)">
<text x="177.8">A4A12624</text><text x="251">Description of Tag Number A4A12624</text><text x="445.9">Received</text><text x="496.8">On Time</text><text x="570.4" text-anchor="end">912</text><text x="578">Piping</text><text x="640.8">IWP-912-PIP-056-03-D</text>
<text x="792.4" text-anchor="middle">1</text><text x="862.5" text-anchor="middle">1</text><text x="936.5" text-anchor="middle">2023-10-09</text><text x="1022" text-anchor="middle">2024-04-21</text><text x="1113.7" text-anchor="middle">1</text><text x="1193.6" text-anchor="middle">2024-04-01</text><text x="1267.7" text-anchor="middle">1</text>
</g>
<g transform="translate(0,752.8)">
<text x="177.8">A4A12654</text><text x="251">Description of Tag Number A4A12654</text><text x="445.9">Issued</text><text x="496.8">On Time</text><text x="570.4" text-anchor="end">901</text><text x="578">Piping</text><text x="640.8">IWP-901-PIP-028-02-B</text>
<text x="792.4" text-anchor="middle">1</text><text x="862.5" text-anchor="middle">1</text><text x="936.5" text-anchor="middle">2023-10-09</text><text x="1022" text-anchor="middle">2024-04-25</text><text x="1113.7" text-anchor="middle">1</text><text x="1193.6" text-anchor="middle">2024-04-15</text><text x="1267.7" text-anchor="middle">1</text><text x="1333.9" text-anchor="middle">2024-04-15</text>
</g>
<g transform="translate(0,768.2)">
<text x="177.8">A4A12714</text><text x="251">Description of Tag Number A4A12714</text><text x="445.9">Issued</text><text x="496.8">On Time</text><text x="570.4" text-anchor="end">912</text><text x="578">Piping</text><text x="640.8">IWP-912-PIP-056-01-B</text>
<text x="792.4" text-anchor="middle">1</text><text x="862.5" text-anchor="middle">1</text><text x="936.5" text-anchor="middle">2023-10-09</text><text x="1022" text-anchor="middle">2024-04-11</text><text x="1113.7" text-anchor="middle">1</text><text x="1193.6" text-anchor="middle">2024-04-01</text><text x="1267.7" text-anchor="middle">1</text><text x="1333.9" text-anchor="middle">2024-04-01</text>
</g>
<g transform="translate(0,783.7)">
<text x="177.8">A4A12734</text><text x="251">Description of Tag Number A4A12734</text><text x="445.9">Issued</text><text x="496.8">On Time</text><text x="570.4" text-anchor="end">912</text><text x="578">Piping</text><text x="640.8">IWP-912-PIP-055-01-C</text>
<text x="792.4" text-anchor="middle">1</text><text x="862.5" text-anchor="middle">1</text><text x="936.5" text-anchor="middle">2023-10-09</text><text x="1022" text-anchor="middle">2024-04-25</text><text x="1113.7" text-anchor="middle">1</text><text x="1193.6" text-anchor="middle">2024-04-15</text><text x="1267.7" text-anchor="middle">1</text><text x="1333.9" text-anchor="middle">2024-04-15</text>
</g>
<g transform="translate(0,799.2)">
<text x="177.8">A4A12824</text><text x="251">Description of Tag Number A4A12824</text><text x="445.9">Issued</text><text x="496.8">On Time</text><text x="570.4" text-anchor="end">912</text><text x="578">Piping</text><text x="640.8">IWP-912-PIP-057-01-B</text>
<text x="792.4" text-anchor="middle">1</text><text x="862.5" text-anchor="middle">1</text><text x="936.5" text-anchor="middle">2023-10-09</text><text x="1022" text-anchor="middle">2024-04-25</text><text x="1113.7" text-anchor="middle">1</text><text x="1193.6" text-anchor="middle">2024-04-15</text><text x="1267.7" text-anchor="middle">1</text><text x="1333.9" text-anchor="middle">2024-04-15</text>
</g>
<g transform="translate(0,814.6)">
<text x="177.8">A4A13294</text><text x="251">Description of Tag Number A4A13294</text><text x="445.9">Received</text><text x="496.8">On Time</text><text x="570.4" text-anchor="end">901</text><text x="578">Piping</text><text x="640.8">IWP-901-PIP-037-01-D</text>
<text x="792.4" text-anchor="middle">1</text><text x="862.5" text-anchor="middle">1</text><text x="936.5" text-anchor="middle">2023-10-09</text><text x="1022" text-anchor="middle">2024-05-12</text><text x="1113.7" text-anchor="middle">1</text><text x="1193.6" text-anchor="middle">2024-04-22</text><text x="1267.7" text-anchor="middle">1</text>
</g>
</g>
</svg>
</body></html>
